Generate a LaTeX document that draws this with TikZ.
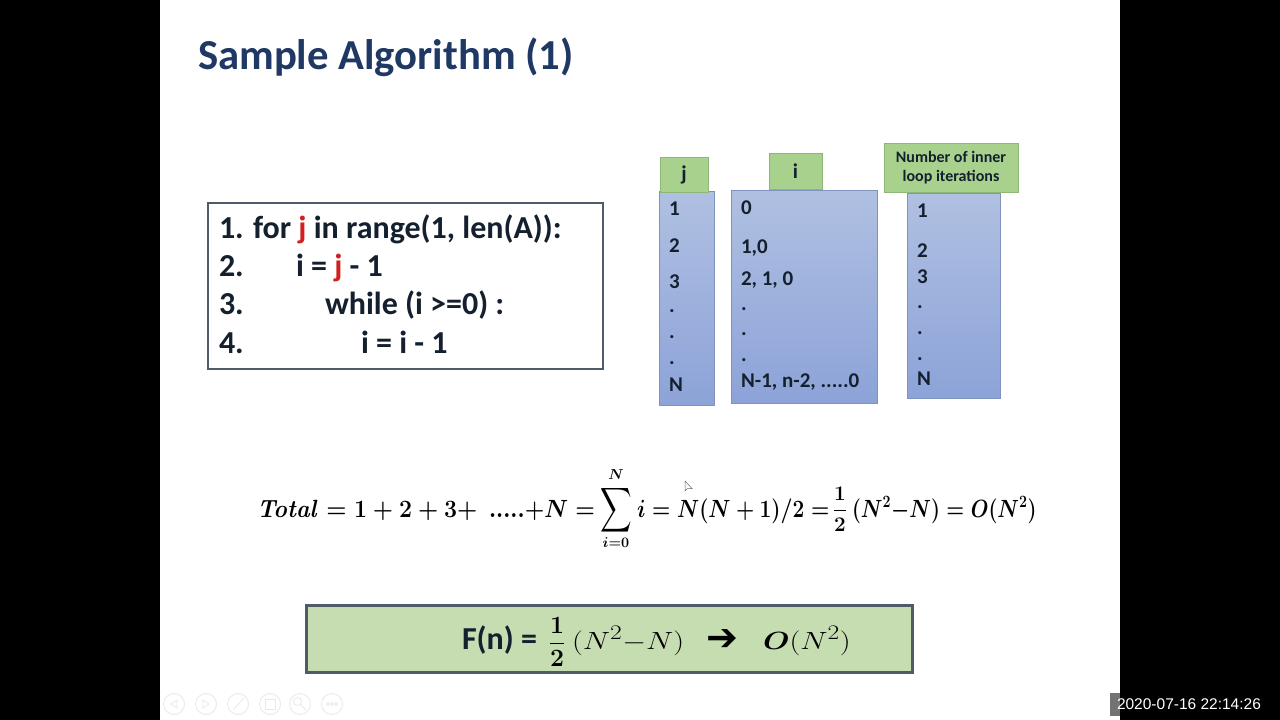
\documentclass[tikz,border=0pt]{standalone}
\usepackage[no-math]{fontspec}
\usepackage{amsmath}
\usepackage{graphicx}
\setmainfont{Carlito}
\newfontfamily\stampfont{Liberation Sans}
\newfontfamily\arrowfont{DejaVu Sans}
\definecolor{slidenavy}{HTML}{1F3864}
\definecolor{slidetext}{HTML}{14202E}
\definecolor{edgeslate}{HTML}{4F5B68}
\definecolor{codered}{HTML}{D02020}
\definecolor{headgreen}{HTML}{A9D18E}
\definecolor{headedge}{HTML}{8DB878}
\definecolor{coltop}{HTML}{B0C0E2}
\definecolor{colbottom}{HTML}{8CA3D8}
\definecolor{coledge}{HTML}{7F93BE}
\definecolor{resultgreen}{HTML}{C6DDB2}
\definecolor{navgrey}{HTML}{E9E9E9}
\newcommand{\squeezemath}[2]{\scalebox{#1}[1]{$#2$}}
\begin{document}
\begin{tikzpicture}[
 x=1pt,y=-1pt,
 inner sep=0pt,
 outer sep=0pt,
 codebox/.style={draw=edgeslate,fill=white,line width=2.4pt,rectangle,minimum width=395pt,minimum height=166pt},
 resultbox/.style={draw=edgeslate,fill=resultgreen,line width=3pt,rectangle,minimum width=606pt,minimum height=67pt},
 headbox/.style={draw=headedge,fill=headgreen,line width=.7pt,rectangle,align=center,text=slidetext,font=\fontsize{16}{19.5}\selectfont\bfseries},
 colbox/.style={draw=coledge,top color=coltop,bottom color=colbottom,line width=.7pt,rectangle},
 codetext/.style={anchor=base west,yshift=-10pt,text=slidetext,font=\fontsize{32}{36}\selectfont\bfseries},
 celltext/.style={anchor=base west,yshift=-6.7pt,text=slidetext,font=\fontsize{21}{25}\selectfont\bfseries},
 mathtext/.style={anchor=base west,text=black,font=\fontsize{24}{28}\selectfont\boldmath},
 mathsmall/.style={anchor=center,text=black,font=\fontsize{14}{17}\selectfont\boldmath},
 navicon/.style={draw=navgrey,line width=.8pt,fill=none}
]
\useasboundingbox (0,0) rectangle (1280,720);
\fill[black] (0,0) rectangle (1280,720);
\fill[white] (160,0) rectangle (1120,720);
\node (slide-title) [anchor=base west,yshift=-13.7pt,text=slidenavy,font=\fontsize{42.7}{48}\selectfont\bfseries] at (198,56) {Sample Algorithm (1)};

\node (code-box) [codebox] at (405.5,286) {};
\node (code-num1) [codetext] at (219,228) {1.};
\node (code-line1) [codetext] at (253,228) {for \textcolor{codered}{j} in range(1, len(A)):};
\node (code-num2) [codetext] at (219,266) {2.};
\node (code-line2) [codetext] at (296,266) {i = \textcolor{codered}{j} - 1};
\node (code-num3) [codetext] at (219,304) {3.};
\node (code-line3) [codetext] at (325,304) {while (i >=0) :};
\node (code-num4) [codetext] at (219,343) {4.};
\node (code-line4) [codetext] at (361,343) {i = i - 1};

\node (j-col) [colbox,minimum width=55pt,minimum height=214pt] at (686.5,298) {};
\node (i-col) [colbox,minimum width=146pt,minimum height=213pt] at (804,296.5) {};
\node (count-col) [colbox,minimum width=93pt,minimum height=205pt] at (953.5,295.5) {};
\node (j-head) [headbox,minimum width=48pt,minimum height=35pt,font=\fontsize{21}{24}\selectfont\bfseries] at (684,174.5) {j};
\node (i-head) [headbox,minimum width=53pt,minimum height=36pt,font=\fontsize{21}{24}\selectfont\bfseries] at (795.5,171) {i};
\node (count-head) [headbox,minimum width=134pt,minimum height=49pt] at (951,167.5) {Number of inner\\loop iterations};

\foreach \nm/\val/\ypos in {a/1/209,b/2/246,c/3/282,d/./306,e/./332,f/./358,g/N/385}
 \node (j-cell-\nm) [celltext] at (669,\ypos) {\val};
\foreach \nm/\val/\ypos in {a/0/208,b/{1,0}/247,c/{2, 1, 0}/279,d/./304,e/./329,f/./355,g/{N-1, n-2, .....0}/381}
 \node (i-cell-\nm) [celltext] at (741,\ypos) {\val};
\foreach \nm/\val/\ypos in {a/1/211,b/2/251,c/3/277,d/./302,e/./328,f/./354,g/N/379}
 \node (count-cell-\nm) [celltext] at (917,\ypos) {\val};

\node (total-a) [mathtext] at (257,517) {\squeezemath{.93}{\mathit{Total}=1+2+3+}};
\node (total-b) [mathtext] at (489,517) {\squeezemath{.9}{{.}{.}{.}{.}{.}{+}N=}};
\node (total-sum) [anchor=center,text=black,font=\fontsize{24}{28}\selectfont\boldmath] at (616,510) {\scalebox{.88}[1.25]{$\displaystyle\sum$}};
\node (sum-top) [mathsmall] at (616,475) {$N$};
\node (sum-bottom) [mathsmall] at (616,543) {$i{=}0$};
\node (total-c) [mathtext] at (637,517) {\squeezemath{.84}{i=N(N+1)/2=}};
\node (total-frac) [anchor=center,text=black,font=\fontsize{22}{26}\selectfont\boldmath] at (840,509) {$\dfrac{1}{2}$};
\node (total-d) [mathtext] at (852,517) {\squeezemath{.82}{(N^{2}{-}N)=O(N^{2})}};

\draw[fill=white,draw=black!60,line width=.5pt] (685,481) -- (685,491) -- (687.5,488.5) -- (692,488.5) -- cycle;

\node (result-box) [resultbox] at (609,638.5) {};
\node (result-f) [anchor=base west,text=slidetext,font=\fontsize{32}{36}\selectfont\bfseries] at (462,649) {F(n) =};
\node (result-frac) [anchor=center,text=black,font=\fontsize{23}{28}\selectfont] at (557,642) {$\dfrac{\mathbf{1}}{\mathbf{2}}$};
\node (result-a) [anchor=base west,text=black,font=\fontsize{31}{34}\selectfont] at (572,649) {\scalebox{1.23}[1]{$(N^{2}{-}N)$}};
\node (result-arrow) [anchor=center,text=black,font=\fontsize{38}{42}\selectfont\arrowfont] at (722.5,640) {➔};
\node (result-b) [anchor=base west,text=black,font=\fontsize{31}{34}\selectfont] at (763,649) {\scalebox{1.23}[1]{$\boldsymbol{O}(N^{2})$}};

\foreach \nm/\xpos in {back/174,next/206,pen/238,grid/270,find/300,more/332}
 \node (nav-\nm) [navicon,circle,minimum size=21pt] at (\xpos,704) {};
\draw[navicon] (177,700) -- (171,704) -- (177,708) -- cycle;
\draw[navicon] (203,700) -- (209,704) -- (203,708) -- cycle;
\draw[navicon] (233,710) -- (244,698);
\draw[navicon] (265,699) rectangle (275,709);
\draw[navicon] (297.5,701.5) circle (4pt) (300.5,704.5) -- (306,710);
\foreach \xpos in {328,332,336} \draw[navicon] (\xpos,704) circle (1.3pt);

\fill[black!55] (1110,693) rectangle (1120,716);
\node (time-stamp) [anchor=base west,yshift=-5pt,text=white,font=\fontsize{15.5}{18}\selectfont\stampfont] at (1117,704) {2020-07-16 22:14:26};
\end{tikzpicture}
\end{document}
